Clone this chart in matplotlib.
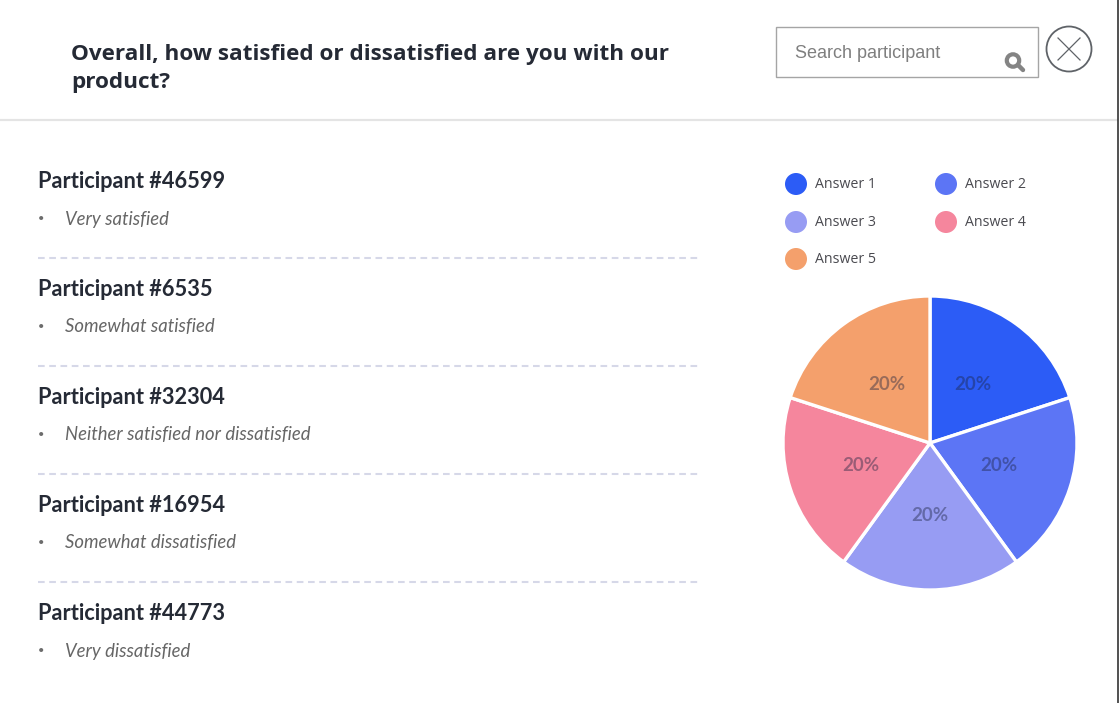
import matplotlib
matplotlib.use("Agg")
from matplotlib import pyplot as plt
from matplotlib.patches import Circle, Rectangle
import numpy as np

W, H = 1119, 703

question = ["Overall, how satisfied or dissatisfied are you with our", "product?"]
participants = ["Participant #46599", "Participant #6535", "Participant #32304", "Participant #16954", "Participant #44773"]
responses = ["Very satisfied", "Somewhat satisfied", "Neither satisfied nor dissatisfied", "Somewhat dissatisfied", "Very dissatisfied"]
answers = ["Answer 1", "Answer 2", "Answer 3", "Answer 4", "Answer 5"]
shares = [20, 20, 20, 20, 20]
colors = ["#2c5cf6", "#5c75f5", "#979cf3", "#f5869d", "#f4a06c"]

fig = plt.figure(figsize=(W / 100, H / 100), dpi=100, facecolor="white")

# page layer in pixel coordinates, y pointing down
bg = fig.add_axes([0, 0, 1, 1])
bg.set_xlim(0, W)
bg.set_ylim(H, 0)
bg.axis("off")

bg.text(71, 54.5, question[0], fontsize=16.2, fontweight="bold", family="Open Sans", color="#252a35", va="center")
bg.text(71, 82.5, question[1], fontsize=16.2, fontweight="bold", family="Open Sans", color="#252a35", va="center")
bg.plot([0, 1117], [120, 120], color="#e4e4e4", lw=1.6)
bg.plot([1118, 1118], [0, H], color="#333333", lw=1.2)

# search box
bg.add_patch(Rectangle((776, 27), 262, 50, fc="white", ec="#a5a5a5", lw=1))
bg.text(795, 53.5, "Search participant", fontsize=13, family="Liberation Sans", color="#7f7f7f", va="center")
bg.add_patch(Circle((1013, 60.5), 6.2, fc="none", ec="#848484", lw=3))
bg.plot([1018, 1023], [65, 70], color="#848484", lw=3.2, solid_capstyle="round")

# close button
bg.add_patch(Circle((1069, 49), 22.5, fc="white", ec="#5f6368", lw=1.3))
bg.plot([1058, 1080], [38, 60], color="#5f6368", lw=0.9)
bg.plot([1058, 1080], [60, 38], color="#5f6368", lw=0.9)

# participant list
for i, (name, resp) in enumerate(zip(participants, responses)):
    y = 180 + 108 * i
    bg.text(38, y + 1.5, name, fontsize=15.7, fontweight="bold", family="Lato", color="#252a35", va="center")
    bg.text(38, y + 38, "•", fontsize=8, family="Lato", color="#6c6c6c", va="center")
    bg.text(65, y + 39, resp, fontsize=13.35, style="italic", family="Lato", color="#666666", va="center")
    if i < 4:
        bg.plot([38, 698], [y + 78, y + 78], color="#d6d8e8", lw=1.5, dashes=(3.2, 2.2))

# legend
legend_x = [796, 946, 796, 946, 796]
legend_y = [184, 184, 222, 222, 259]
for lab, col, lx, ly in zip(answers, colors, legend_x, legend_y):
    bg.add_patch(Circle((lx, ly), 11, fc=col, ec="none"))
    bg.text(lx + 19, ly + 0.5, lab, fontsize=10.2, family="Open Sans", color="#4a4a50", va="center")

# pie, centre (930,443) radius 147 px
box = 150
ax = fig.add_axes([(930 - box) / W, 1 - (443 + box) / H, 2 * box / W, 2 * box / H])
wedges, texts, autotexts = ax.pie(
    shares, colors=colors, startangle=90, counterclock=False, radius=1,
    autopct="%d%%", pctdistance=0.495,
    wedgeprops={"edgecolor": "white", "linewidth": 2.4},
)
ax.set_xlim(-box / 147, box / 147)
ax.set_ylim(-box / 147, box / 147)
for t in autotexts:
    t.set_family("Lato")
    t.set_fontsize(13.5)
    t.set_fontweight("bold")
    t.set_color("#1c2340")
    t.set_alpha(0.42)

fig.savefig("out.png", dpi=100)
